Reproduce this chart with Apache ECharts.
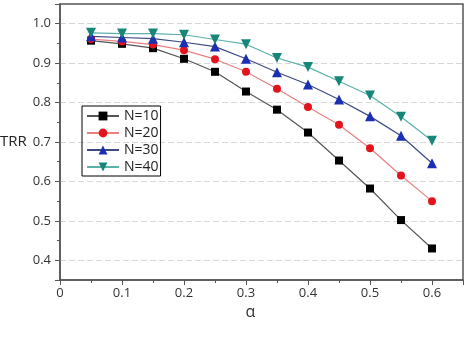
<!DOCTYPE html>
<html><head><meta charset="utf-8">
<script src="https://cdn.jsdelivr.net/npm/echarts@6/dist/echarts.min.js"></script>
<style>html,body{margin:0;padding:0;background:#fff}#c{width:474px;height:346px}</style>
</head><body><div id="c"></div>
<script>
const alpha = [0.05,0.10,0.15,0.20,0.25,0.30,0.35,0.40,0.45,0.50,0.55,0.60];
const n10 = [0.957,0.949,0.938,0.911,0.878,0.828,0.782,0.724,0.653,0.582,0.502,0.430];
const n20 = [0.961,0.955,0.947,0.933,0.910,0.878,0.835,0.789,0.744,0.684,0.615,0.550];
const n30 = [0.968,0.965,0.962,0.953,0.942,0.911,0.877,0.846,0.808,0.765,0.716,0.646];
const n40 = [0.977,0.975,0.975,0.972,0.960,0.948,0.913,0.890,0.854,0.818,0.764,0.703];
const names = ['N=10','N=20','N=30','N=40'];

const pairs = v => alpha.map((a,i)=>[a,v[i]]);
const chart = echarts.init(document.getElementById('c'));
const F = 'Open Sans, Noto Sans, sans-serif';
const mk = (name, data, sym, col, lineCol, size, rot) => ({
  name, type:'line', data: pairs(data), symbol: sym, symbolSize: size, symbolRotate: rot||0,
  itemStyle:{color:col}, lineStyle:{color:lineCol, width:1.2}, animation:false
});
chart.setOption({
  animation:false,
  grid:{left:60, right:11, top:4, bottom:66, show:true, borderColor:'#555', borderWidth:1.5,
    containLabel:false, outerBoundsMode:'none'},
  legend:{
    orient:'vertical', left:82, top:106, itemWidth:32, itemHeight:11, itemGap:3,
    borderColor:'#000', borderWidth:1, padding:[3,2,2,4], borderRadius:0,
    textStyle:{fontFamily:F, fontSize:14, color:'#222', lineHeight:13},
    data:names
  },
  xAxis:{
    type:'value', min:0, max:0.65, interval:0.1,
    name:'α', nameLocation:'middle', nameGap:22,
    nameTextStyle:{fontFamily:F, fontSize:16, color:'#333', padding:[0,22,0,0]},
    axisLine:{lineStyle:{color:'#555', width:1.5}},
    axisTick:{length:5, lineStyle:{color:'#555'}},
    minorTick:{show:true, splitNumber:2, length:3, lineStyle:{color:'#555'}},
    axisLabel:{fontFamily:F, fontSize:13, color:'#333', margin:7, showMaxLabel:false,
      formatter: v => v===0 ? '0' : v.toFixed(1)},
    splitLine:{show:false}
  },
  yAxis:{
    type:'value', min:0.35, max:1.05, splitNumber:7,
    name:'TRR', nameLocation:'middle', nameRotate:0, nameGap:31,
    nameTextStyle:{fontFamily:F, fontSize:15, color:'#222'},
    axisLine:{show:true, lineStyle:{color:'#555', width:1.5}},
    axisTick:{show:true, length:5, lineStyle:{color:'#555'}},
    minorTick:{show:true, splitNumber:2, length:3, lineStyle:{color:'#555'}},
    axisLabel:{fontFamily:F, fontSize:13, color:'#333', margin:9, showMinLabel:false, showMaxLabel:false,
      formatter: v => v.toFixed(1)},
    splitLine:{show:true, showMinLine:false, showMaxLine:false, lineStyle:{color:'#d8d8d8', type:[6,3], width:1}}
  },
  series:[
    mk(names[0], n10, 'rect', '#000000', '#555555', 8),
    mk(names[1], n20, 'circle', '#e3131c', '#e88080', 8),
    mk(names[2], n30, 'triangle', '#1b2fb5', '#3d4a80', 10),
    mk(names[3], n40, 'triangle', '#17867a', '#5bb0a8', 10, 180)
  ]
});
</script></body></html>
